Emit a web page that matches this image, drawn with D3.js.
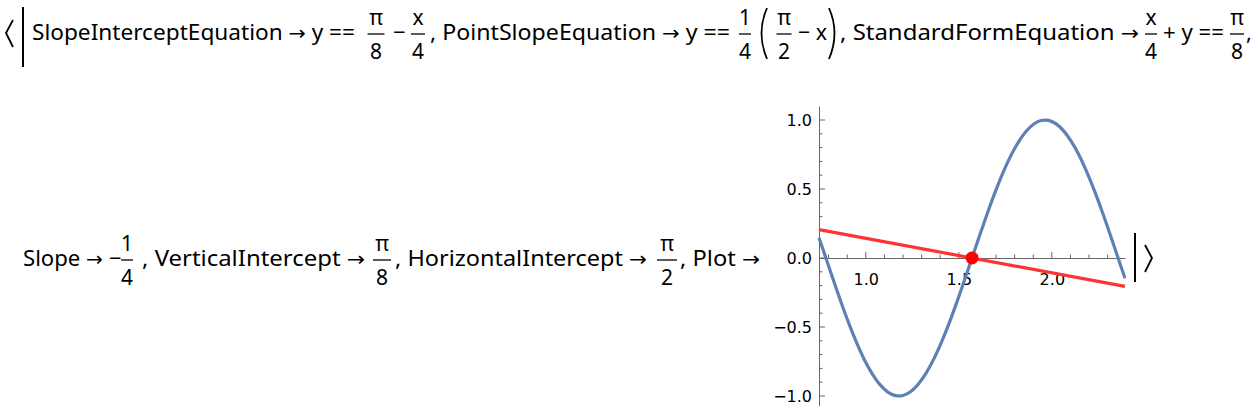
<!DOCTYPE html>
<html>
<head>
<meta charset="utf-8">
<script src="https://cdn.jsdelivr.net/npm/d3@7"></script>
<style>
  body { margin: 0; background: #fff; }
  svg { display: block; }
</style>
</head>
<body>
<div id="container"></div>
<script>
let curveX = [0.7483, 0.7894, 0.8305, 0.8717, 0.9128, 0.9539, 0.9950, 1.0362, 1.0773, 1.1184,
  1.1595, 1.2007, 1.2418, 1.2829, 1.3240, 1.3652, 1.4063, 1.4474, 1.4885, 1.5297,
  1.5708, 1.6119, 1.6531, 1.6942, 1.7353, 1.7764, 1.8176, 1.8587, 1.8998, 1.9409,
  1.9821, 2.0232, 2.0643, 2.1054, 2.1466, 2.1877, 2.2288, 2.2699, 2.3111, 2.3522, 2.3933];
let curveY = [0.1474, -0.0161, -0.1796, -0.3387, -0.4881, -0.6240, -0.7443, -0.8429, -0.9197, -0.9716,
  -0.9972, -0.9960, -0.9678, -0.9132, -0.8343, -0.7330, -0.6116, -0.4738, -0.3231, -0.1638,
  0, 0.1638, 0.3231, 0.4738, 0.6116, 0.7330, 0.8343, 0.9132, 0.9678, 0.9960,
  0.9972, 0.9716, 0.9197, 0.8429, 0.7443, 0.6240, 0.4881, 0.3387, 0.1796, 0.0161, -0.1474];
// red line endpoints and the intercept point
let lineX = [0.7483, 2.3933];
let lineY = [0.2056, -0.2056];
let pointX = [1.5708];
let pointY = [0];
let xTicks = [1.0, 1.5, 2.0];
let yTicks = [-1.0, -0.5, 0.0, 0.5, 1.0];

let w = 1256;
let h = 414;
let font = "'Noto Sans', 'Open Sans', sans-serif";

let viz = d3.select("#container")
  .append("svg")
    .attr("width", w)
    .attr("height", h)
;

// ---------- text rows ----------
// [string, x start, x end]
let row1 = [
  ["SlopeInterceptEquation \u2192 y ==", 32, 355],
  ["\u2212", 393, 402],
  [", PointSlopeEquation \u2192 y ==", 430, 730],
  ["\u2212 x", 798, 827],
  [", StandardFormEquation \u2192", 840, 1139],
  ["+ y ==", 1163, 1224],
  [",", 1246, 1252]
];
let frac1 = [["\u03C0", "8", 376, 17], ["x", "4", 418, 14], ["1", "4", 745, 12],
  ["\u03C0", "2", 784, 15], ["x", "4", 1151, 12], ["\u03C0", "8", 1237, 14]];

let row2 = [
  ["Slope \u2192", 23, 103],
  ["\u2212", 109, 117],
  [", VerticalIntercept \u2192", 142, 365],
  [", HorizontalIntercept \u2192", 395, 647],
  [", Plot \u2192", 680, 760]
];
let frac2 = [["1", "4", 127, 12], ["\u03C0", "8", 382, 18], ["\u03C0", "2", 667, 20]];

function drawRow(segs, fracs, barY) {
  let g = viz.append("g");
  segs.forEach(function(s){
    let t = g.append("text")
      .attr("x", s[1]).attr("y", barY + 6)
      .attr("font-family", font).attr("font-size", 22)
      .attr("fill", "#000");
    // arrows drawn in DejaVu so they are full size
    s[0].split(/(\u2192)/).forEach(function(part){
      if (part === "") return;
      let ts = t.append("tspan").text(part);
      if (part === "\u2192") ts.attr("font-family", "'DejaVu Sans', sans-serif").attr("font-size", 20);
    });
    if (s[0].length > 2) {
      t.attr("textLength", s[2] - s[1]).attr("lengthAdjust", "spacingAndGlyphs");
    }
  });
  fracs.forEach(function(f){
    g.append("text").attr("x", f[2]).attr("y", barY - 9)
      .attr("text-anchor", "middle").attr("font-family", font).attr("font-size", 21)
      .text(f[0]);
    g.append("text").attr("x", f[2]).attr("y", barY + 25)
      .attr("text-anchor", "middle").attr("font-family", font).attr("font-size", 21)
      .text(f[1]);
    g.append("line")
      .attr("x1", f[2] - f[3] / 2).attr("x2", f[2] + f[3] / 2)
      .attr("y1", barY).attr("y2", barY)
      .attr("stroke", "#000").attr("stroke-width", 1.3);
  });
}
drawRow(row1, frac1, 34);
drawRow(row2, frac2, 260);

// big parens around pi/2 - x
viz.append("path").attr("d", "M767,8 Q756,33 767,59").attr("fill", "none").attr("stroke", "#000").attr("stroke-width", 1.8);
viz.append("path").attr("d", "M829,8 Q840,33 829,59").attr("fill", "none").attr("stroke", "#000").attr("stroke-width", 1.8);

// association brackets
viz.append("path").attr("d", "M13,20 L6,33 L13,47").attr("fill", "none").attr("stroke", "#000").attr("stroke-width", 1.8);
viz.append("line").attr("x1", 23).attr("x2", 23).attr("y1", 7).attr("y2", 67).attr("stroke", "#000").attr("stroke-width", 2);
viz.append("line").attr("x1", 1135).attr("x2", 1135).attr("y1", 233).attr("y2", 282).attr("stroke", "#000").attr("stroke-width", 2);
viz.append("path").attr("d", "M1145,245 L1152,258 L1145,272").attr("fill", "none").attr("stroke", "#000").attr("stroke-width", 1.8);

// ---------- plot ----------
let xScale = d3.scaleLinear().domain([0.7483, 2.3933]).range([819, 1125]);
let yScale = d3.scaleLinear().domain([-1.07, 1.1]).range([258 + 1.07 * 138, 258 - 1.1 * 138]);

let axisColor = "#666";
let tickFont = "'DejaVu Sans', sans-serif";

// x axis
let xAxisGroup = viz.append("g").attr("transform", "translate(0," + yScale(0) + ")");
xAxisGroup.call(d3.axisBottom(xScale).tickValues(xTicks).tickFormat(d3.format(".1f")).tickSize(0).tickPadding(16));
xAxisGroup.select(".domain").attr("stroke", axisColor);
xAxisGroup.selectAll("text").attr("font-family", tickFont).attr("font-size", 16).attr("fill", "#000");
// ticks point up into the plot
let xMinor = d3.range(8, 24).map(function(d){ return d / 10; });
xAxisGroup.selectAll(".minor").data(xMinor).enter().append("line")
  .attr("x1", function(d){ return xScale(d); }).attr("x2", function(d){ return xScale(d); })
  .attr("y1", 0).attr("y2", function(d){ return (Math.round(d * 10) % 5 === 0) ? -6 : -3.5; })
  .attr("stroke", axisColor);

// y axis
let yAxisGroup = viz.append("g").attr("transform", "translate(" + xScale.range()[0] + ",0)");
yAxisGroup.call(d3.axisLeft(yScale).tickValues(yTicks)
  .tickFormat(function(d){ return d3.format(".1f")(d).replace("-", "\u2212"); })
  .tickSize(0).tickPadding(7));
yAxisGroup.select(".domain").attr("stroke", axisColor);
yAxisGroup.selectAll("text").attr("font-family", tickFont).attr("font-size", 16).attr("fill", "#000");
let yMinor = d3.range(-10, 11).map(function(d){ return d / 10; });
yAxisGroup.selectAll(".minor").data(yMinor).enter().append("line")
  .attr("y1", function(d){ return yScale(d); }).attr("y2", function(d){ return yScale(d); })
  .attr("x1", 0).attr("x2", function(d){ return (Math.round(d * 10) % 5 === 0) ? 6 : 3.5; })
  .attr("stroke", axisColor);

// blue curve
let curvePts = curveX.map(function(x, i){ return [x, curveY[i]]; });
viz.append("path")
  .datum(curvePts)
  .attr("d", d3.line()
    .x(function(d){ return xScale(d[0]); })
    .y(function(d){ return yScale(d[1]); })
    .curve(d3.curveCatmullRom))
  .attr("fill", "none")
  .attr("stroke", "#5E81B5")
  .attr("stroke-width", 3.2);

// red line
let linePts = lineX.map(function(x, i){ return [x, lineY[i]]; });
viz.append("path")
  .datum(linePts)
  .attr("d", d3.line()
    .x(function(d){ return xScale(d[0]); })
    .y(function(d){ return yScale(d[1]); }))
  .attr("fill", "none")
  .attr("stroke", "#FF3333")
  .attr("stroke-width", 3.2);

// red point
viz.selectAll(".pt").data(pointX).enter().append("circle")
  .attr("cx", function(d){ return xScale(d); })
  .attr("cy", function(d, i){ return yScale(pointY[i]); })
  .attr("r", 6.5)
  .attr("fill", "#FF0000");
</script>
</body>
</html>
